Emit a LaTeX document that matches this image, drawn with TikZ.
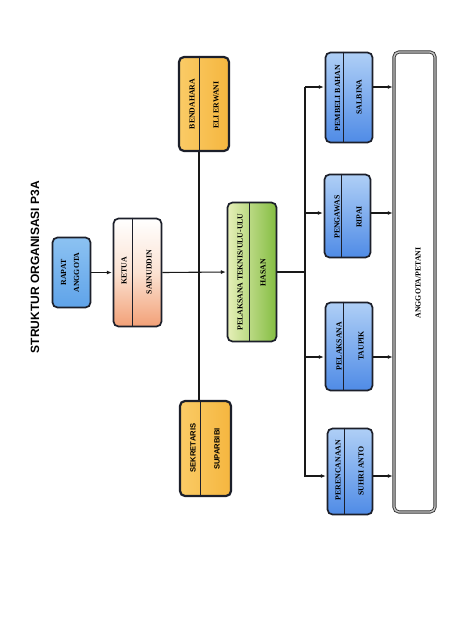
\documentclass[tikz,border=0pt]{standalone}
\usepackage{fontspec}
\setmainfont{Liberation Serif}
\newfontfamily\sansf{Liberation Sans}
\usetikzlibrary{arrows.meta}
\definecolor{edge}{HTML}{1C1F2A}
\definecolor{rapatA}{HTML}{8CC2F2}
\definecolor{rapatB}{HTML}{5FA3E9}
\definecolor{ketuaB}{HTML}{F2A077}
\definecolor{ketuaM}{HTML}{FBE2D2}
\definecolor{oranA}{HTML}{FACB66}
\definecolor{oranB}{HTML}{F5B63F}
\definecolor{greenA}{HTML}{E6F0B8}
\definecolor{greenB}{HTML}{84BD42}
\definecolor{blueA}{HTML}{AFCFF6}
\definecolor{blueB}{HTML}{4F8BE6}
\begin{document}
\begin{tikzpicture}[x=1pt,y=1pt,
  box/.style={draw=edge, line width=1.7pt, rounded corners=5pt, inner sep=0pt},
  divider/.style={draw=edge, line width=1pt},
  lbl/.style={rotate=90, font=\fontsize{7.8}{13}\selectfont\bfseries, inner sep=0pt, text=black, align=center},
  slbl/.style={lbl, font=\sansf\fontsize{7.6}{13}\selectfont\bfseries},
  conn/.style={line width=1.1pt, black!90},
  arr/.style={conn, -{Latex[length=5pt,width=4pt]}, shorten >=0.8pt},
  bluebox/.style={box, top color=blueA, bottom color=blueB},
  orangebox/.style={box, line width=2.2pt, left color=oranA, right color=oranB},
]
\useasboundingbox[fill=white] (0,0) rectangle (474,-632);

% title
\node[rotate=90, font=\sansf\bfseries\fontsize{12}{14}\selectfont, inner sep=0pt] (title) at (35,-267) {STRUKTUR ORGANISASI P3A};

% junction coordinates
\coordinate (spine) at (199,-273);
\coordinate (tA) at (305,-87);
\coordinate (tB) at (305,-213);
\coordinate (tC) at (305,-357);
\coordinate (tD) at (305,-476);

% boxes
\node[box, top color=rapatA, bottom color=rapatB, minimum width=38pt, minimum height=70pt] (rapat) at (71.5,-272.5) {};
\node[box, top color=white, bottom color=ketuaB, middle color=ketuaM, minimum width=48pt, minimum height=108pt] (ketua) at (137.5,-272.5) {};
\node[orangebox, minimum width=50pt, minimum height=94pt] (bend) at (204,-104) {};
\node[orangebox, minimum width=51pt, minimum height=95pt] (sek) at (205.5,-448.5) {};
\node[box, left color=greenA, right color=greenB, minimum width=49pt, minimum height=139pt] (teknis) at (252,-272) {};
\node[bluebox, minimum width=47pt, minimum height=90pt] (pembeli) at (349,-97.5) {};
\node[bluebox, minimum width=46pt, minimum height=83pt] (pengawas) at (347.5,-216) {};
\node[bluebox, minimum width=47pt, minimum height=88pt] (pelaks) at (349,-346.5) {};
\node[bluebox, minimum width=45pt, minimum height=86pt] (perenc) at (350,-471.5) {};
\node[box, fill=white, draw=black!80, line width=0.9pt, double=gray!45, double distance=1.4pt, minimum width=41pt, minimum height=460pt] (anggota) at (414.5,-282) {};

% dividers
\draw[divider] (ketua.north -| 132,0) -- (ketua.south -| 132,0);
\draw[divider] (bend.north -| 199,0) -- (bend.south -| 199,0);
\draw[divider] (sek.north -| 200,0) -- (sek.south -| 200,0);
\draw[divider] (teknis.north -| 249,0) -- (teknis.south -| 249,0);
\draw[divider] (pembeli.north -| 343,0) -- (pembeli.south -| 343,0);
\draw[divider] (pengawas.north -| 341,0) -- (pengawas.south -| 341,0);
\draw[divider] (pelaks.north -| 343,0) -- (pelaks.south -| 343,0);
\draw[divider] (perenc.north -| 344,0) -- (perenc.south -| 344,0);

% connectors
\draw[conn] (bend.south -| spine) -- (sek.north -| spine);
\draw[arr] (rapat.east) -- (ketua.west);
\draw[arr] (ketua.east) -- (teknis.west);
\draw[conn] (teknis.east) -- (teknis.east -| tA);
\draw[arr] (tA) -- (tD) -- (tD -| perenc.west);
\draw[arr] (tA) -- (tA -| pembeli.west);
\draw[arr] (tB) -- (tB -| pengawas.west);
\draw[arr] (tC) -- (tC -| pelaks.west);
\draw[arr] (tA -| pembeli.east) -- (tA -| anggota.west);
\draw[arr] (tB -| pengawas.east) -- (tB -| anggota.west);
\draw[arr] (tC -| pelaks.east) -- (tC -| anggota.west);
\draw[arr] (tD -| perenc.east) -- (tD -| anggota.west);

% labels
\node[lbl] (rapatT) at (70,-272.5) {RAPAT\\ANGGOTA};
\node[lbl] (ketuaT) at (124,-271) {KETUA};
\node[lbl] (ketuaN) at (149,-272) {SAINUDDIN};
\node[lbl] (bendT) at (192,-104) {BENDAHARA};
\node[lbl] (bendN) at (216,-105) {ELI ERWANI};
\node[slbl] (sekT) at (193,-448) {SEKRETARIS};
\node[slbl] (sekN) at (217,-449) {SUPARBIBI};
\node[lbl] (teknisT) at (240,-272) {PELAKSANA TEKNIS/ULU-ULU};
\node[lbl] (teknisN) at (263,-273) {HASAN};
\node[lbl] (pembeliT) at (337.5,-98) {PEMBELI BAHAN};
\node[lbl] (pembeliN) at (359,-97) {SALBINA};
\node[lbl] (pengawasT) at (337,-217) {PENGAWAS};
\node[lbl] (pengawasN) at (359,-217) {RIPAI};
\node[lbl] (pelaksT) at (339,-346) {PELAKSANA};
\node[lbl] (pelaksN) at (361,-346) {TAUPIK};
\node[lbl] (perencT) at (338,-470) {PERENCANAAN};
\node[lbl] (perencN) at (361,-471) {SUHRI ANTO};
\node[lbl] (anggotaT) at (418,-283) {ANGGOTA/PETANI};
\end{tikzpicture}
\end{document}
